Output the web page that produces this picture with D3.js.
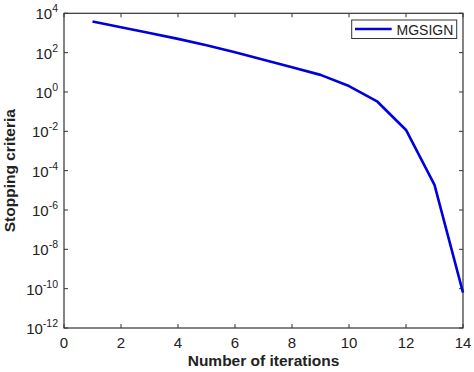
<!DOCTYPE html>
<html>
<head>
<meta charset="utf-8">
<script src="https://cdn.jsdelivr.net/npm/d3@7"></script>
<style>
  body { margin: 0; background: white; }
  text { font-family: "Liberation Sans", Arial, sans-serif; fill: #222; }
</style>
</head>
<body>
<svg id="chart" width="474" height="372"></svg>
<script>
const iterations = [1, 2, 3, 4, 5, 6, 7, 8, 9, 10, 11, 12, 13, 14];
const criteria = [3800, 1950, 1000, 500, 240, 105, 44, 18, 7.4, 2.0, 0.32, 0.0117, 1.9e-5, 6.3e-11];
const xTicks = [0, 2, 4, 6, 8, 10, 12, 14];
const yExponents = [4, 2, 0, -2, -4, -6, -8, -10, -12];
const seriesName = "MGSIGN";

const svg = d3.select("#chart");
const margin = { left: 64, top: 13.3, right: 11, bottom: 44 };
const width = 474, height = 372;
const tickLen = 4;
const axisColor = "#333";

const x = d3.scaleLinear().domain([0, 14]).range([margin.left, width - margin.right]);
const y = d3.scaleLog().domain([1e-12, 1e4]).range([height - margin.bottom, margin.top]);

// Plot box
svg.append("rect")
  .attr("x", x(0))
  .attr("y", y(1e4))
  .attr("width", x(14) - x(0))
  .attr("height", y(1e-12) - y(1e4))
  .attr("fill", "none")
  .attr("stroke", axisColor)
  .attr("stroke-width", 1.2);

// Inner ticks, all four sides
const ticks = svg.append("g").attr("stroke", axisColor).attr("stroke-width", 1);
xTicks.forEach((t) => {
  ticks.append("line").attr("x1", x(t)).attr("x2", x(t))
    .attr("y1", y(1e-12)).attr("y2", y(1e-12) - tickLen);
  ticks.append("line").attr("x1", x(t)).attr("x2", x(t))
    .attr("y1", y(1e4)).attr("y2", y(1e4) + tickLen);
});
yExponents.forEach((e) => {
  const v = Math.pow(10, e);
  ticks.append("line").attr("x1", x(0)).attr("x2", x(0) + tickLen)
    .attr("y1", y(v)).attr("y2", y(v));
  ticks.append("line").attr("x1", x(14)).attr("x2", x(14) - tickLen)
    .attr("y1", y(v)).attr("y2", y(v));
});

// X tick labels
svg.append("g").selectAll("text")
  .data(xTicks)
  .join("text")
  .attr("x", (d) => x(d))
  .attr("y", 348)
  .attr("text-anchor", "middle")
  .attr("font-size", 15)
  .text((d) => d);

// Y tick labels (10 with superscript exponent)
const yl = svg.append("g").selectAll("text")
  .data(yExponents)
  .join("text")
  .attr("x", 58)
  .attr("y", (d) => y(Math.pow(10, d)) + 6)
  .attr("text-anchor", "end")
  .attr("font-size", 15);
yl.append("tspan").text("10");
yl.append("tspan")
  .attr("dy", -7)
  .attr("font-size", 10.5)
  .text((d) => d);

// Axis titles
svg.append("text")
  .attr("x", (x(0) + x(14)) / 2)
  .attr("y", 366)
  .attr("text-anchor", "middle")
  .attr("font-size", 15.5)
  .attr("font-weight", "bold")
  .text("Number of iterations");

svg.append("text")
  .attr("transform", `translate(15, ${(y(1e4) + y(1e-12)) / 2}) rotate(-90)`)
  .attr("text-anchor", "middle")
  .attr("font-size", 15.5)
  .attr("font-weight", "bold")
  .text("Stopping criteria");

// Series line
const line = d3.line()
  .x((d, i) => x(iterations[i]))
  .y((d) => y(d));

svg.append("path")
  .datum(criteria)
  .attr("d", line)
  .attr("fill", "none")
  .attr("stroke", "#0000dd")
  .attr("stroke-width", 2.6)
  .attr("stroke-linejoin", "round");

// Legend
const lg = svg.append("g");
lg.append("rect")
  .attr("x", 351.7)
  .attr("y", 20)
  .attr("width", 105)
  .attr("height", 18.5)
  .attr("fill", "white")
  .attr("stroke", axisColor)
  .attr("stroke-width", 1);
lg.append("line")
  .attr("x1", 355).attr("x2", 391.7)
  .attr("y1", 29).attr("y2", 29)
  .attr("stroke", "#0000dd")
  .attr("stroke-width", 2.6);
lg.append("text")
  .attr("x", 396.5)
  .attr("y", 34.5)
  .attr("font-size", 14)
  .text(seriesName);
</script>
</body>
</html>
